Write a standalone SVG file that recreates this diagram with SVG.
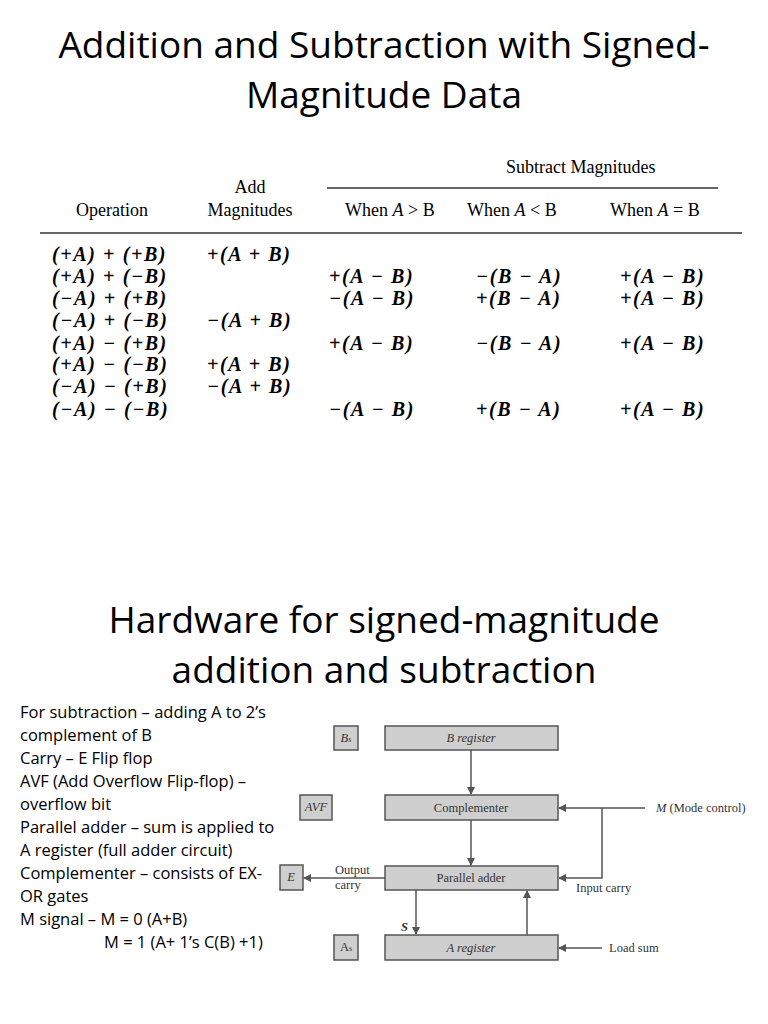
<svg xmlns="http://www.w3.org/2000/svg" width="768" height="1024" viewBox="0 0 768 1024">
<style>
.t{font-family:"Open Sans","Liberation Sans",sans-serif;font-size:37px;fill:#000;text-anchor:middle}
.tb{font-family:"Liberation Serif",serif;font-size:18px;fill:#000}
.ti{font-family:"Liberation Serif",serif;font-size:20px;font-weight:bold;font-style:italic;fill:#000;letter-spacing:1.6px}
.n{font-family:"Open Sans","Liberation Sans",sans-serif;font-size:16.5px;fill:#000}
.bx{fill:#cfcfcf;stroke:#555;stroke-width:1.5}
.bl{font-family:"Liberation Serif",serif;font-size:12.5px;fill:#333;text-anchor:middle}
.ln{stroke:#555;stroke-width:1.5;fill:none}
</style>
<defs><marker id="ar" markerWidth="8" markerHeight="8" refX="7" refY="4" orient="auto" markerUnits="userSpaceOnUse"><path d="M0,0 L8,4 L0,8z" fill="#555"/></marker></defs>
<rect width="768" height="1024" fill="#fff"/>
<text class="t" x="384" y="58">Addition and Subtraction with Signed-</text>
<text class="t" x="384" y="108">Magnitude Data</text>
<g id="table">
<text class="tb" x="506" y="173" font-size="17">Subtract Magnitudes</text>
<line x1="327" y1="188" x2="718" y2="188" stroke="#333" stroke-width="1.5"/>
<text class="tb" x="250" y="193" text-anchor="middle">Add</text>
<text class="tb" x="250" y="216" text-anchor="middle">Magnitudes</text>
<text class="tb" x="112" y="216" text-anchor="middle">Operation</text>
<text class="tb" x="345" y="216">When <tspan font-style="italic">A</tspan> &gt; B</text>
<text class="tb" x="467" y="216">When <tspan font-style="italic">A</tspan> &lt; B</text>
<text class="tb" x="610" y="216">When <tspan font-style="italic">A</tspan> = B</text>
<line x1="40" y1="233" x2="742" y2="233" stroke="#333" stroke-width="1.5"/>
<g class="ti">
<text x="52" y="261">(+A) + (+B)</text><text x="207" y="261">+(A + B)</text>
<text x="52" y="283">(+A) + (−B)</text><text x="329" y="283">+(A − B)</text><text x="476" y="283">−(B − A)</text><text x="620" y="283">+(A − B)</text>
<text x="52" y="305">(−A) + (+B)</text><text x="329" y="305">−(A − B)</text><text x="476" y="305">+(B − A)</text><text x="620" y="305">+(A − B)</text>
<text x="52" y="327">(−A) + (−B)</text><text x="207" y="327">−(A + B)</text>
<text x="52" y="350">(+A) − (+B)</text><text x="329" y="350">+(A − B)</text><text x="476" y="350">−(B − A)</text><text x="620" y="350">+(A − B)</text>
<text x="52" y="371">(+A) − (−B)</text><text x="207" y="371">+(A + B)</text>
<text x="52" y="393">(−A) − (+B)</text><text x="207" y="393">−(A + B)</text>
<text x="52" y="416">(−A) − (−B)</text><text x="329" y="416">−(A − B)</text><text x="476" y="416">+(B − A)</text><text x="620" y="416">+(A − B)</text>
</g>
</g>
<text class="t" x="384" y="633">Hardware for signed-magnitude</text>
<text class="t" x="384" y="683">addition and subtraction</text>
<g id="notes" class="n">
<text x="20" y="718">For subtraction – adding A to 2’s</text>
<text x="20" y="741">complement of B</text>
<text x="20" y="764">Carry – E Flip flop</text>
<text x="20" y="787">AVF (Add Overflow Flip-flop) –</text>
<text x="20" y="810">overflow bit</text>
<text x="20" y="833">Parallel adder – sum is applied to</text>
<text x="20" y="856">A register (full adder circuit)</text>
<text x="20" y="879">Complementer – consists of EX-</text>
<text x="20" y="902">OR gates</text>
<text x="20" y="925">M signal – M = 0 (A+B)</text>
<text x="104" y="948">M = 1 (A+ 1’s C(B) +1)</text>
</g>
<g id="connectors">
<line class="ln" x1="471" y1="750" x2="471" y2="794" marker-end="url(#ar)"/>
<line class="ln" x1="471" y1="820" x2="471" y2="865" marker-end="url(#ar)"/>
<line class="ln" x1="645" y1="808" x2="559" y2="808" marker-end="url(#ar)"/>
<polyline class="ln" points="602,808 602,878 559,878" marker-end="url(#ar)"/>
<line class="ln" x1="385" y1="878" x2="304" y2="878" marker-end="url(#ar)"/>
<line class="ln" x1="416" y1="890" x2="416" y2="934" marker-end="url(#ar)"/>
<line class="ln" x1="527" y1="935" x2="527" y2="891" marker-end="url(#ar)"/>
<line class="ln" x1="602" y1="948" x2="559" y2="948" marker-end="url(#ar)"/>
</g>
<g id="bs"><rect class="bx" x="334" y="726" width="24" height="24"/><text class="bl" x="346" y="742" font-style="italic">B<tspan font-size="8">s</tspan></text></g>
<g id="breg"><rect class="bx" x="385" y="726" width="173" height="24"/><text class="bl" x="471" y="742" font-style="italic">B register</text></g>
<g id="avf"><rect class="bx" x="300" y="795" width="32" height="25"/><text class="bl" x="316" y="811" font-style="italic">AVF</text></g>
<g id="comp"><rect class="bx" x="385" y="795" width="173" height="25"/><text class="bl" x="471" y="812">Complementer</text></g>
<g id="e"><rect class="bx" x="280" y="865" width="23" height="25"/><text class="bl" x="291" y="881" font-style="italic">E</text></g>
<g id="pa"><rect class="bx" x="385" y="866" width="173" height="24"/><text class="bl" x="471" y="882">Parallel adder</text></g>
<g id="as"><rect class="bx" x="334" y="935" width="24" height="25"/><text class="bl" x="346" y="951">A<tspan font-size="8">s</tspan></text></g>
<g id="areg"><rect class="bx" x="385" y="935" width="173" height="25"/><text class="bl" x="471" y="952" font-style="italic">A register</text></g>
<g class="bl" style="text-anchor:start">
<text x="335" y="874">Output</text><text x="335" y="889">carry</text>
<text x="576" y="892">Input carry</text>
<text x="656" y="812"><tspan font-style="italic">M</tspan> (Mode control)</text>
<text x="609" y="952">Load sum</text>
<text x="401" y="931" font-style="italic" font-weight="bold">S</text>
</g>
</svg>
